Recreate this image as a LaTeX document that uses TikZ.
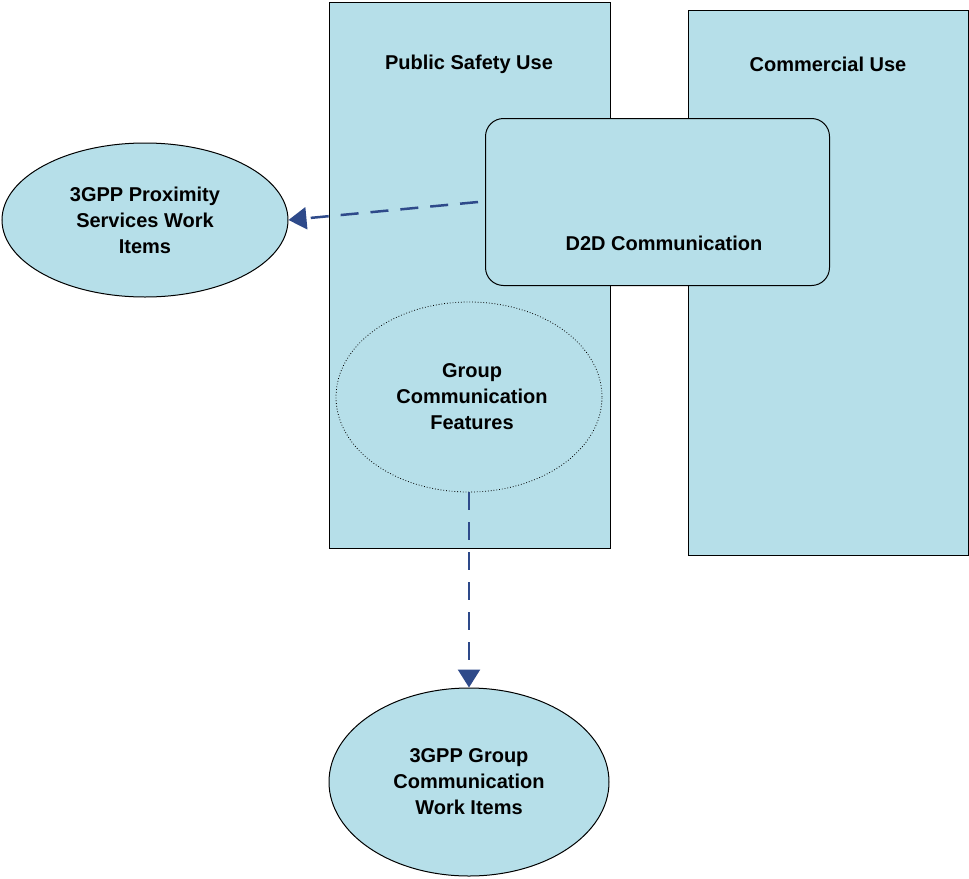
\documentclass[tikz,border=0pt]{standalone}
\usepackage{fontspec}
\setmainfont{Liberation Sans}
\usetikzlibrary{arrows.meta,shapes.geometric}
\definecolor{fillb}{HTML}{B6DFE9}
\definecolor{arr}{HTML}{2E4A8A}
\begin{document}
\begin{tikzpicture}[x=1pt,y=-1pt,
  box/.style={draw=black,fill=fillb,line width=1pt},
  lab/.style={font=\fontsize{20}{26}\selectfont\bfseries,align=center},
  conn/.style={draw=arr,line width=2.5pt,dash pattern=on 18pt off 12pt,-{Triangle[length=18pt,width=22pt]}}]
\useasboundingbox (0,0) rectangle (969,878);
\node[box,minimum width=281,minimum height=546,anchor=north west] (ps) at (329,2) {};
\node[box,minimum width=280,minimum height=545,anchor=north west] (cu) at (688,10) {};
\node[lab] (pst) at (469,64) {Public Safety Use};
\node[lab] (cut) at (828,64) {Commercial Use};
\node[box,rounded corners=18pt,minimum width=344,minimum height=167,anchor=north west] (d2d) at (485,118) {};
\node[lab] (d2dt) at (664,243) {D2D Communication};
\node[box,ellipse,minimum width=286,minimum height=154] (prox) at (145,220) {};
\node[lab] at (145,220) {3GPP Proximity\\Services Work\\Items};
\node[draw=black,dotted,line width=0.8pt,ellipse,minimum width=266,minimum height=190] (grp) at (469,397) {};
\node[lab] at (472,397) {Group\\Communication\\Features};
\node[box,ellipse,minimum width=280,minimum height=188] (gcw) at (469,782) {};
\node[lab] at (469,782) {3GPP Group\\Communication\\Work Items};
\coordinate (a1) at (478,202);
\draw[conn] (a1) -- (prox.east);
\draw[conn] (grp.south) -- (gcw.north);
\end{tikzpicture}
\end{document}
